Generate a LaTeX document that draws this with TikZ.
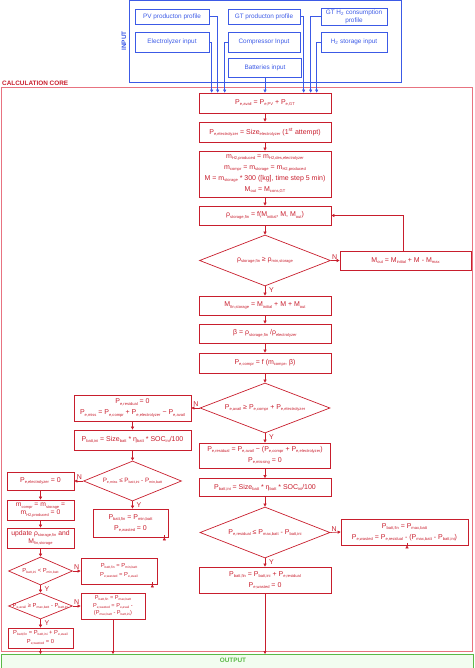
\documentclass[tikz,border=0pt]{standalone}
\usepackage{fontspec}
\usepackage{graphicx}
\setmainfont{Liberation Sans}
\usetikzlibrary{arrows.meta,shapes.geometric,calc}
\definecolor{rd}{RGB}{200,30,45}
\definecolor{corec}{RGB}{232,115,128}
\definecolor{bl}{RGB}{60,90,230}
\definecolor{gr}{RGB}{90,185,70}
\definecolor{grf}{RGB}{242,252,240}
\newcommand\lo[1]{\raisebox{-0.35ex}{\scalebox{0.58}{#1}}}
\begin{document}
\begin{tikzpicture}[x=1pt,y=-1pt,
 rbox/.style={draw=rd, text=rd, line width=0.7pt, align=center, inner sep=0pt, font=\fontsize{7}{11}\selectfont},
 sbox/.style={rbox, font=\fontsize{5.8}{9}\selectfont},
 bbox/.style={draw=bl, text=bl, line width=0.7pt, align=center, inner sep=0pt, font=\fontsize{6.4}{8}\selectfont},
 rdia/.style={diamond, draw=rd, line width=0.7pt, inner sep=0pt},
 dtxt/.style={text=rd, inner sep=0pt, font=\fontsize{7}{8}\selectfont},
 sdtxt/.style={dtxt, font=\fontsize{5.8}{7}\selectfont},
 yn/.style={text=rd, inner sep=1pt, font=\fontsize{7}{8}\selectfont},
 ra/.style={draw=rd, line width=0.6pt, -{Triangle[length=3pt,width=3pt]}},
 ba/.style={draw=bl, line width=0.6pt, -{Triangle[length=3pt,width=3pt]}}]
\useasboundingbox (0,0) rectangle (474,668);

% ---------- INPUT ----------
\node[draw=bl, line width=0.7pt, minimum width=272, minimum height=81.5, anchor=north west, inner sep=0pt] (inp) at (129,0.5) {};
\node[text=bl, rotate=90, font=\bfseries\fontsize{6.4}{8}\selectfont, inner sep=0pt] (inplab) at (124,41) {INPUT};
\node[bbox, minimum width=74, minimum height=15] (pv) at (172,16.5) {PV producton profile};
\node[bbox, minimum width=72, minimum height=15] (gtp) at (264,16.5) {GT producton profile};
\node[bbox, minimum width=66, minimum height=17] (gth) at (354,16.5) {GT H\textsubscript{2} consumption\\profile};
\node[bbox, minimum width=74, minimum height=20] (ely) at (172,42) {Electrolyzer input};
\node[bbox, minimum width=72, minimum height=20] (cmp) at (264,42) {Compressor Input};
\node[bbox, minimum width=66, minimum height=20] (h2s) at (354,42) {H\textsubscript{2} storage input};
\node[bbox, minimum width=73, minimum height=19] (bat) at (265,67.5) {Batteries input};

% ---------- CORE ----------
\node[draw=corec, line width=0.8pt, minimum width=471, minimum height=564, anchor=north west, inner sep=0pt] (core) at (1,87) {};
\node[text=rd, font=\bfseries\fontsize{6.4}{8}\selectfont, anchor=south west, inner sep=0pt] (corelab) at (2,85.5) {CALCULATION CORE};

% ---------- OUTPUT ----------
\node[draw=gr, fill=grf, line width=0.8pt, minimum width=472, minimum height=14, anchor=north west, inner sep=0pt] (out) at (1,654) {};
\node[text=gr, font=\bfseries\fontsize{6.4}{8}\selectfont, inner sep=0pt] (outlab) at (233,660.5) {OUTPUT};

% ---------- main column ----------
\node[rbox, minimum width=132, minimum height=20] (b1) at (265,103) {P\lo{e,avail} = P\lo{e,PV} + P\lo{e,GT}};
\node[rbox, minimum width=132, minimum height=20] (b2) at (265,132) {P\lo{e,electrolyzer} = Size\lo{electrolyzer} (1\textsuperscript{st} attempt)};
\node[rbox, minimum width=132, minimum height=46] (b3) at (265,174) {m\lo{H2,produced} = m\lo{H2,des,electrolyzer}\\ m\lo{compr} = m\lo{storage} = m\lo{H2,produced}\\ M = m\lo{storage} * 300 ([kg], time step 5 min)\\ M\lo{out} = M\lo{cons,GT}};
\node[rbox, minimum width=132, minimum height=19] (b4) at (265,215.5) {ρ\lo{storage,fin} = f(M\lo{initial}, M, M\lo{out})};
\node[rdia, minimum width=131, minimum height=51] (d1) at (265,260.5) {};
\node[dtxt] at (d1) {ρ\lo{storage,fin} ≥ ρ\lo{min,storage}};
\node[rbox, minimum width=131, minimum height=19] (bmo) at (405.5,260.5) {M\lo{out} = M\lo{initial} + M - M\lo{max}};
\node[rbox, minimum width=132, minimum height=19] (b5) at (265,305.5) {M\lo{fin,storage} = M\lo{initial} + M + M\lo{out}};
\node[rbox, minimum width=132, minimum height=19] (b6) at (265,333.5) {β = ρ\lo{storage,fin} /ρ\lo{electrolyzer}};
\node[rbox, minimum width=132, minimum height=20] (b7) at (265,363) {P\lo{e,compr} = f (m\lo{compr}, β)};
\node[rdia, minimum width=130, minimum height=50] (d2) at (265,408) {};
\node[dtxt] at (d2) {P\lo{e,avail} ≥ P\lo{e,compr} + P\lo{e,electrolyzer}};
\node[rbox, minimum width=131, minimum height=25] (rb1) at (265,455.5) {P\lo{e,residual} = P\lo{e,avail} − (P\lo{e,compr} + P\lo{e,electrolyzer})\\ P\lo{e,missing} = 0};
\node[rbox, minimum width=132, minimum height=18] (rb2) at (265,487.5) {P\lo{batt,ini} = Size\lo{batt} * η\lo{batt} * SOC\lo{ini}/100};
\node[rdia, minimum width=130, minimum height=51] (d3) at (265,532.5) {};
\node[dtxt] at (d3) {P\lo{e,residual} ≤ P\lo{max,batt} - P\lo{batt,ini}};
\node[rbox, minimum width=127, minimum height=26] (rb3) at (404.5,532) {P\lo{batt,fin} = P\lo{max,batt}\\ P\lo{e,wasted} = P\lo{e,residual} - (P\lo{max,batt} - P\lo{batt,ini})};
\node[rbox, minimum width=132, minimum height=26] (rb4) at (265,580) {P\lo{batt,fin} = P\lo{batt,ini} + P\lo{e,residual}\\ P\lo{e,wasted} = 0};

% ---------- middle-left ----------
\node[rbox, minimum width=117, minimum height=26] (lb1) at (132.5,408) {P\lo{e,residual} = 0\\ P\lo{e,miss} = P\lo{e,compr} + P\lo{e,electrolyzer} − P\lo{e,avail}};
\node[rbox, minimum width=117, minimum height=20] (lb2) at (132.5,440) {P\lo{batt,ini} = Size\lo{batt} * η\lo{batt} * SOC\lo{ini}/100};
\node[rdia, minimum width=98, minimum height=40] (dl) at (132.5,481) {};
\node[dtxt, font=\fontsize{6.3}{7}\selectfont] at (dl) {P\lo{e,miss} ≤ P\lo{batt,ini} - P\lo{min,batt}};
\node[rbox, minimum width=75, minimum height=28] (lb3) at (130.5,523) {P\lo{batt,fin} = P\lo{min,batt}\\ P\lo{e,wasted} = 0};

% ---------- far left ----------
\node[rbox, minimum width=67, minimum height=18] (le1) at (40.5,481) {P\lo{e,electrolyzer} = 0};
\node[rbox, minimum width=67, minimum height=20, font=\fontsize{6.8}{8}\selectfont] (le2) at (40.5,510) {m\lo{compr} = m\lo{storage} =\\ m\lo{H2,produced} = 0};
\node[rbox, minimum width=67, minimum height=20, font=\fontsize{6.8}{8}\selectfont] (le3) at (40.5,538) {update ρ\lo{storage,fin} and\\ M\lo{fin,storage}};
\node[rdia, minimum width=64, minimum height=28] (dl2) at (40.5,571) {};
\node[sdtxt] at (dl2) {P\lo{batt,ini} < P\lo{min,batt}};
\node[sbox, minimum width=76, minimum height=26] (lb4) at (119,571) {P\lo{batt,fin} = P\lo{min,batt}\\ P\lo{e,wasted} = P\lo{e,avail}};
\node[rdia, minimum width=64, minimum height=26] (dl3) at (40.5,606) {};
\node[sdtxt] at (dl3) {P\lo{e,avail} ≥ P\lo{max,batt} - P\lo{batt,ini}};
\node[sbox, minimum width=64, minimum height=26, font=\fontsize{5.6}{7}\selectfont] (lb5) at (113,606) {P\lo{batt,fin} = P\lo{max,batt}\\[1.5pt] P\lo{e,wasted} = P\lo{e,avail} -\\ (P\lo{max,batt} - P\lo{batt,ini})};
\node[sbox, minimum width=65, minimum height=20] (le4) at (40.5,638) {P\lo{batt,fin} = P\lo{batt,ini} + P\lo{e,avail}\\ P\lo{e,wasted} = 0};

% ---------- input arrows ----------
\draw[ba] (ely.east) -| ($(b1.north west)+(13,0)$);
\draw[ba] (pv.east) -| ($(b1.north west)+(19,0)$);
\draw[ba] (cmp.west) -| ($(b1.north west)+(26,0)$);
\draw[ba] (bat.south) -- (bat.south |- b1.north);
\draw[ba] (gtp.east) -| ($(b1.north west)+(105,0)$);
\draw[ba] (gth.west) -| ($(b1.north west)+(112,0)$);
\draw[ba] (h2s.west) -| ($(b1.north west)+(118,0)$);

% ---------- main arrows ----------
\draw[ra] (b1.south) -- (b2.north);
\draw[ra] (b2.south) -- (b3.north);
\draw[ra] (b3.south) -- (b4.north);
\draw[ra] (b4.south) -- (d1.north);
\draw[ra] (d1.east) -- (bmo.west);
\draw[ra] ($(bmo.north)+(-2.5,0)$) |- (b4.east);
\draw[ra] (d1.south) -- (b5.north);
\draw[ra] (b5.south) -- (b6.north);
\draw[ra] (b6.south) -- (b7.north);
\draw[ra] (b7.south) -- (d2.north);
\draw[ra] (d2.west) -- (lb1.east);
\draw[ra] (d2.south) -- (rb1.north);
\draw[ra] (rb1.south) -- (rb2.north);
\draw[ra] (rb2.south) -- (d3.north);
\draw[ra] (d3.east) -- (rb3.west);
\draw[ra] (d3.south) -- (rb4.north);
\draw[ra] (rb4.south) -- (rb4.south |- out.north);
\draw[ra] ($(rb3.south)+(2.5,0)$) -- ($(rb3.south)+(2.5,0)$ |- out.north);

\draw[ra] (lb1.south) -- (lb2.north);
\draw[ra] (lb2.south) -- (dl.north);
\draw[ra] (dl.west) -- (le1.east);
\draw[ra] (dl.south) -- (dl.south |- lb3.north);
\draw[ra] ($(lb3.south east)+(-4,0)$) -- ($(lb3.south east)+(-4,0)$ |- out.north);

\draw[ra] (le1.south) -- (le2.north);
\draw[ra] (le2.south) -- (le3.north);
\draw[ra] (le3.south) -- (dl2.north);
\draw[ra] (dl2.east) -- (lb4.west);
\draw[ra] (dl2.south) -- (dl3.north);
\draw[ra] (dl3.east) -- (lb5.west);
\draw[ra] (dl3.south) -- (le4.north);
\draw[ra] (le4.south) -- (le4.south |- out.north);
\draw[ra] (lb5.south) -- (lb5.south |- out.north);
\draw[ra] ($(lb4.south east)+(-5,0)$) -- ($(lb4.south east)+(-5,0)$ |- out.north);

% ---------- Y / N labels ----------
\node[yn, anchor=south west] at (d1.east) {N};
\node[yn, anchor=north west, xshift=3pt] at (d1.south) {Y};
\node[yn, anchor=south east] at (d2.west) {N};
\node[yn, anchor=north west, xshift=3pt] at (d2.south) {Y};
\node[yn, anchor=south west] at (d3.east) {N};
\node[yn, anchor=north west, xshift=3pt] at (d3.south) {Y};
\node[yn, anchor=south east] at (dl.west) {N};
\node[yn, anchor=north west, xshift=3pt] at (dl.south) {Y};
\node[yn, anchor=south west] at (dl2.east) {N};
\node[yn, anchor=north west, xshift=3pt] at (dl2.south) {Y};
\node[yn, anchor=south west] at (dl3.east) {N};
\node[yn, anchor=north west, xshift=3pt] at (dl3.south) {Y};
\end{tikzpicture}
\end{document}
